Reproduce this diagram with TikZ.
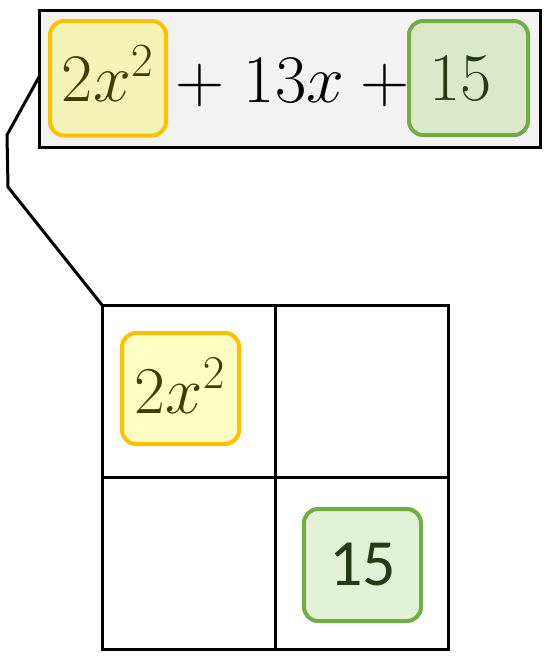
\RequirePackage{fix-cm}
\documentclass[tikz,border=0pt]{standalone}
\usepackage{fontspec}
\newfontfamily\carlito{Carlito}
\definecolor{topgray}{HTML}{F2F2F2}
\definecolor{ystroke}{HTML}{FFC000}
\definecolor{gstroke}{HTML}{70AD47}
\definecolor{yfillA}{HTML}{F4F4B6}
\definecolor{gfillA}{HTML}{DCE8CA}
\definecolor{yfillB}{HTML}{FFFFC4}
\definecolor{gfillB}{HTML}{E3F1D6}
\definecolor{ytext}{HTML}{3E3E00}
\definecolor{gtext}{HTML}{263A16}
\begin{document}
\begin{tikzpicture}[x=1pt,y=-1pt]
\useasboundingbox (0,0) rectangle (550,659);
\tikzset{
  frame/.style={rectangle, draw=black, line width=3pt, inner sep=0pt, outer sep=0pt},
  sqbox/.style={rectangle, rounded corners=14pt, line width=4pt, inner sep=0pt, outer sep=0pt},
  ybox/.style={sqbox, draw=ystroke},
  gbox/.style={sqbox, draw=gstroke},
  eq/.style={inner sep=0pt, anchor=base, font=\fontsize{68}{80}\selectfont},
  cell/.style={inner sep=0pt, anchor=base, font=\fontsize{67}{80}\selectfont},
  conn/.style={draw=black, line width=3pt},
  gridline/.style={draw=black, line width=3pt}
}
% top equation box
\node[frame, fill=topgray, minimum width=501pt, minimum height=137pt] (top) at (289.5,79) {};
\node[ybox, fill=yfillA, minimum width=116pt, minimum height=114.5pt] (ya) at (108,78.25) {};
\node[gbox, fill=gfillA, minimum width=119pt, minimum height=114pt] (ga) at (468.5,78) {};
\node[eq, text=ytext] (t1) at (107.5,101) {$2x^2$};
\node[eq] (t2) at (200,102) {$+$};
\node[eq] (t3) at (294,102) {$13x$};
\node[eq] (t4) at (385,102) {$+$};
\node[eq, text=gtext] (t5) at (461,100) {$15$};
% grid
\node[frame, minimum width=346pt, minimum height=344pt] (grid) at (275,477) {};
\draw[gridline] (grid.north) -- (grid.south);
\draw[gridline] (grid.west) -- (grid.east);
\node[ybox, fill=yfillB, minimum width=117pt, minimum height=111pt] (yb) at (180.5,388.5) {};
\node[gbox, fill=gfillB, minimum width=117pt, minimum height=112pt] (gb) at (362.5,565) {};
\node[cell, text=ytext] (g1) at (180,413) {$2x^2$};
\node[cell, text=gtext, font=\fontsize{66}{80}\carlito] (g2) at (362.5,585) {15};
% connector
\coordinate (k1) at (7,135);
\coordinate (k2) at (8,187);
\draw[conn] ([yshift=2pt]top.west) -- (k1) -- (k2) -- (grid.north west);
\end{tikzpicture}
\end{document}
